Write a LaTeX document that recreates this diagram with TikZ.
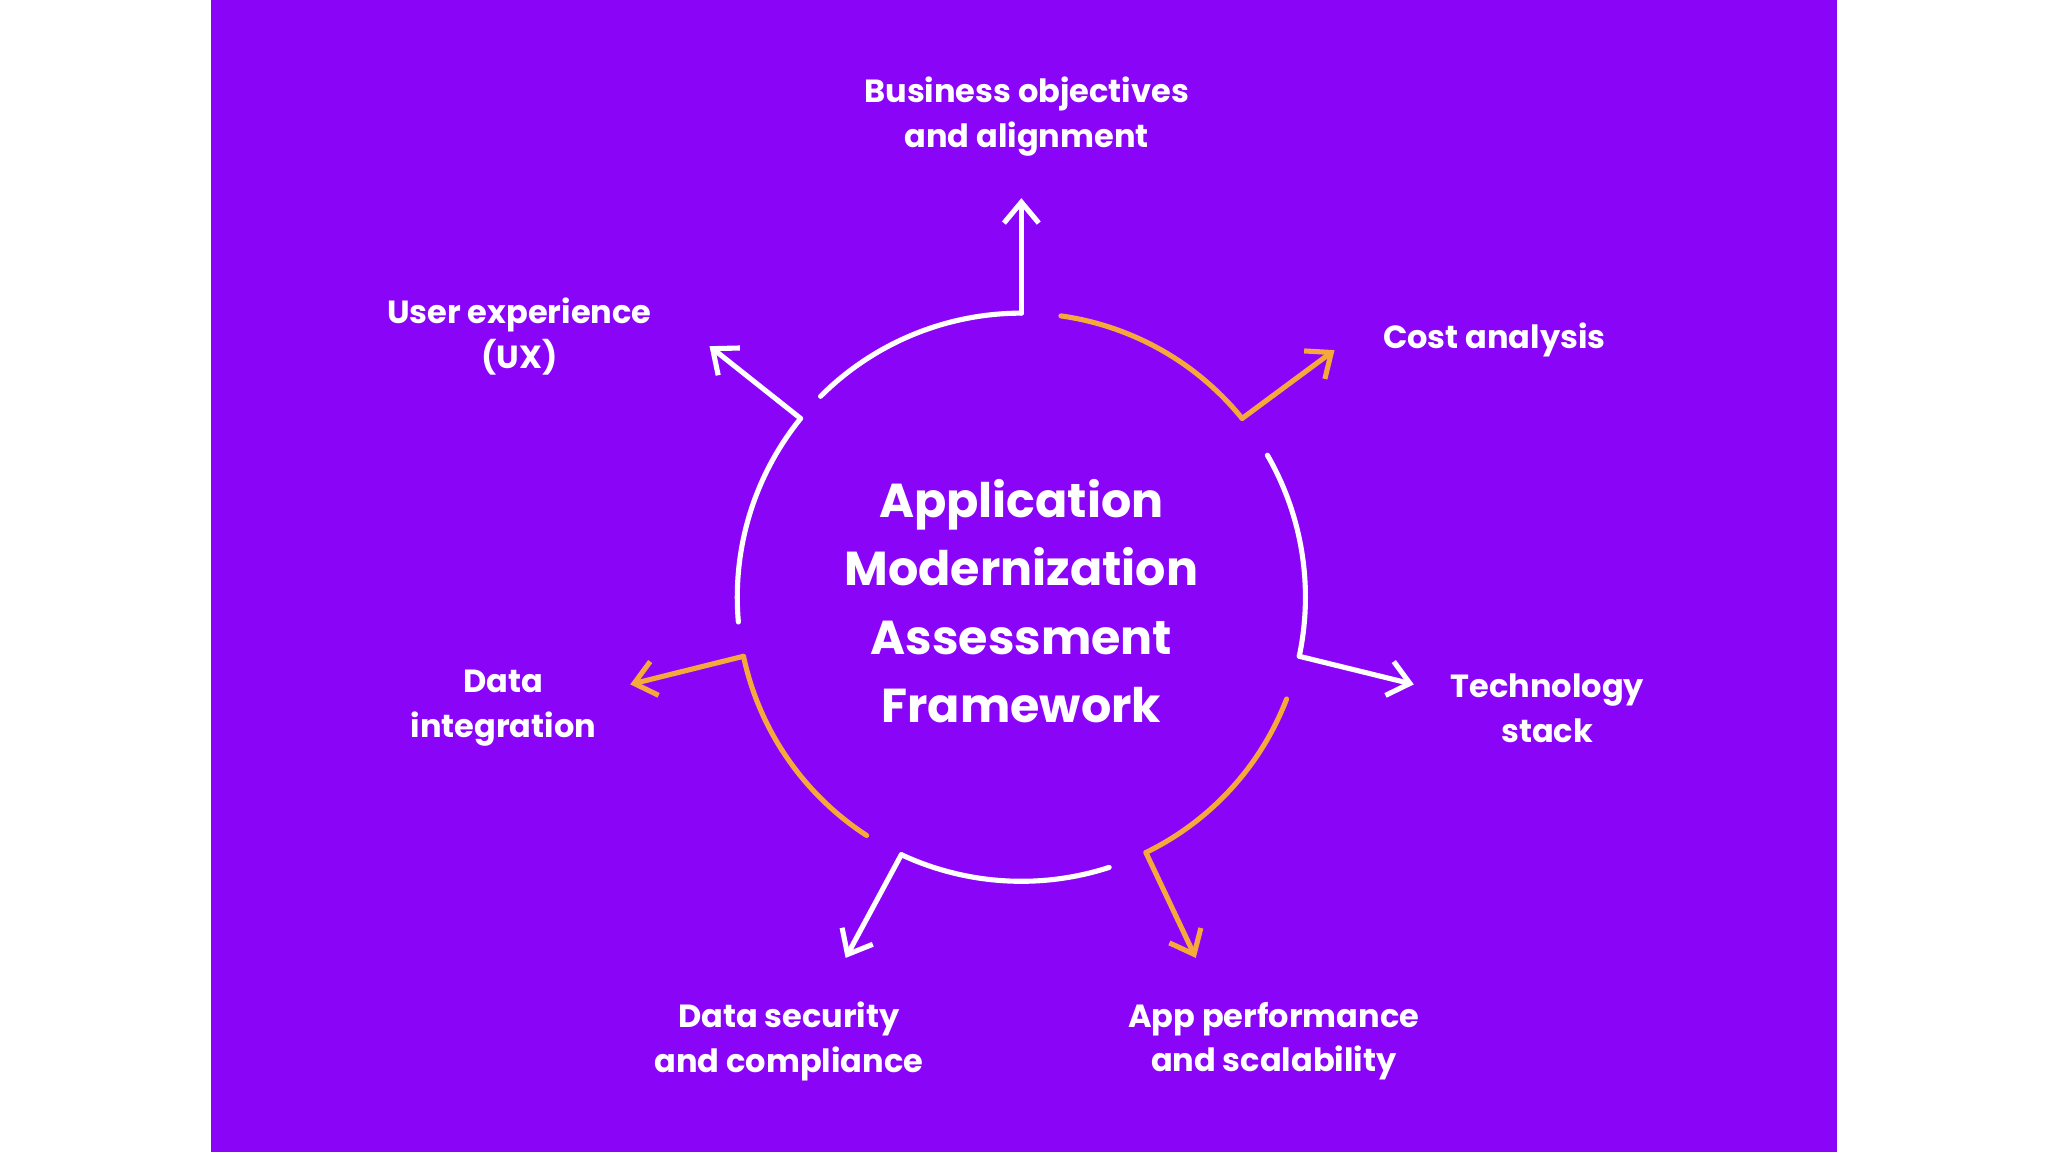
\documentclass[tikz,border=0pt]{standalone}
\usepackage{fontspec}
\setmainfont{Poppins}
\usetikzlibrary{arrows.meta,calc}
\definecolor{bgpurple}{HTML}{8A05F7}
\definecolor{arcorange}{HTML}{F6A93B}
\tikzset{
  wl/.style={draw=white,line width=2.2pt,line cap=round},
  ol/.style={draw=arcorange,line width=2.2pt,line cap=round},
  tip/.style={-{Straight Barb[length=9pt,width=15pt,line width=2.2pt]}},
  lbl/.style={text=white,font=\fontsize{13.8}{19.3}\selectfont\bfseries,align=center},
  ttl/.style={text=white,font=\fontsize{20.5}{29.5}\selectfont\bfseries,align=center}
}
\begin{document}
\begin{tikzpicture}[x=0.02cm,y=0.02cm]
\useasboundingbox (0,0) rectangle (1550,872);
\fill[white] (0,0) rectangle (1550,872);
\fill[bgpurple] (160,0) rectangle (1390,872);
\coordinate (C) at (773,420);
% arcs
\draw[wl] ($(C)+(90:215)$) arc[start angle=90,end angle=135,radius=4.3cm];
\draw[ol] ($(C)+(82:215)$) arc[start angle=82,end angle=39,radius=4.3cm];
\draw[wl] ($(C)+(30:215)$) arc[start angle=30,end angle=-12,radius=4.3cm];
\draw[ol] ($(C)+(-21:215)$) arc[start angle=-21,end angle=-64,radius=4.3cm];
\draw[wl] ($(C)+(-72:215)$) arc[start angle=-72,end angle=-115,radius=4.3cm];
\draw[ol] ($(C)+(-123:215)$) arc[start angle=-123,end angle=-168,radius=4.3cm];
\draw[wl] ($(C)+(-175:215)$) arc[start angle=-175,end angle=-219,radius=4.3cm];
% arrow start/end coordinates
\coordinate (s1) at ($(C)+(90:215)$);   \coordinate (e1) at (773,722);
\coordinate (s2) at ($(C)+(39:215)$);   \coordinate (e2) at (1010,607);
\coordinate (s3) at ($(C)+(-12:215)$);  \coordinate (e3) at (1070,354);
\coordinate (s4) at ($(C)+(-64:215)$);  \coordinate (e4) at (905,147);
\coordinate (s5) at ($(C)+(-115:215)$); \coordinate (e5) at (640,147);
\coordinate (s6) at ($(C)+(-168:215)$); \coordinate (e6) at (477,354);
\coordinate (s7) at ($(C)+(141:215)$);  \coordinate (e7) at (537,610);
\draw[wl,tip] (s1) -- (e1);
\draw[ol,tip] (s2) -- (e2);
\draw[wl,tip] (s3) -- (e3);
\draw[ol,tip] (s4) -- (e4);
\draw[wl,tip] (s5) -- (e5);
\draw[ol,tip] (s6) -- (e6);
\draw[wl,tip] (s7) -- (e7);
% labels
\node[lbl] (business) at (777,784) {Business objectives\\and alignment};
\node[lbl] (cost) at (1131,615) {Cost analysis};
\node[lbl] (tech) at (1171,336) {Technology\\stack};
\node[lbl] (perf) at (964,84) {App performance\\and scalability};
\node[lbl] (sec) at (597,84) {Data security\\and compliance};
\node[lbl] (integ) at (381,336) {Data\\integration};
\node[lbl] (ux) at (393,617) {User experience\\(UX)};
\node[ttl] (title) at (773,417) {Application\\Modernization\\Assessment\\Framework};
\end{tikzpicture}
\end{document}
